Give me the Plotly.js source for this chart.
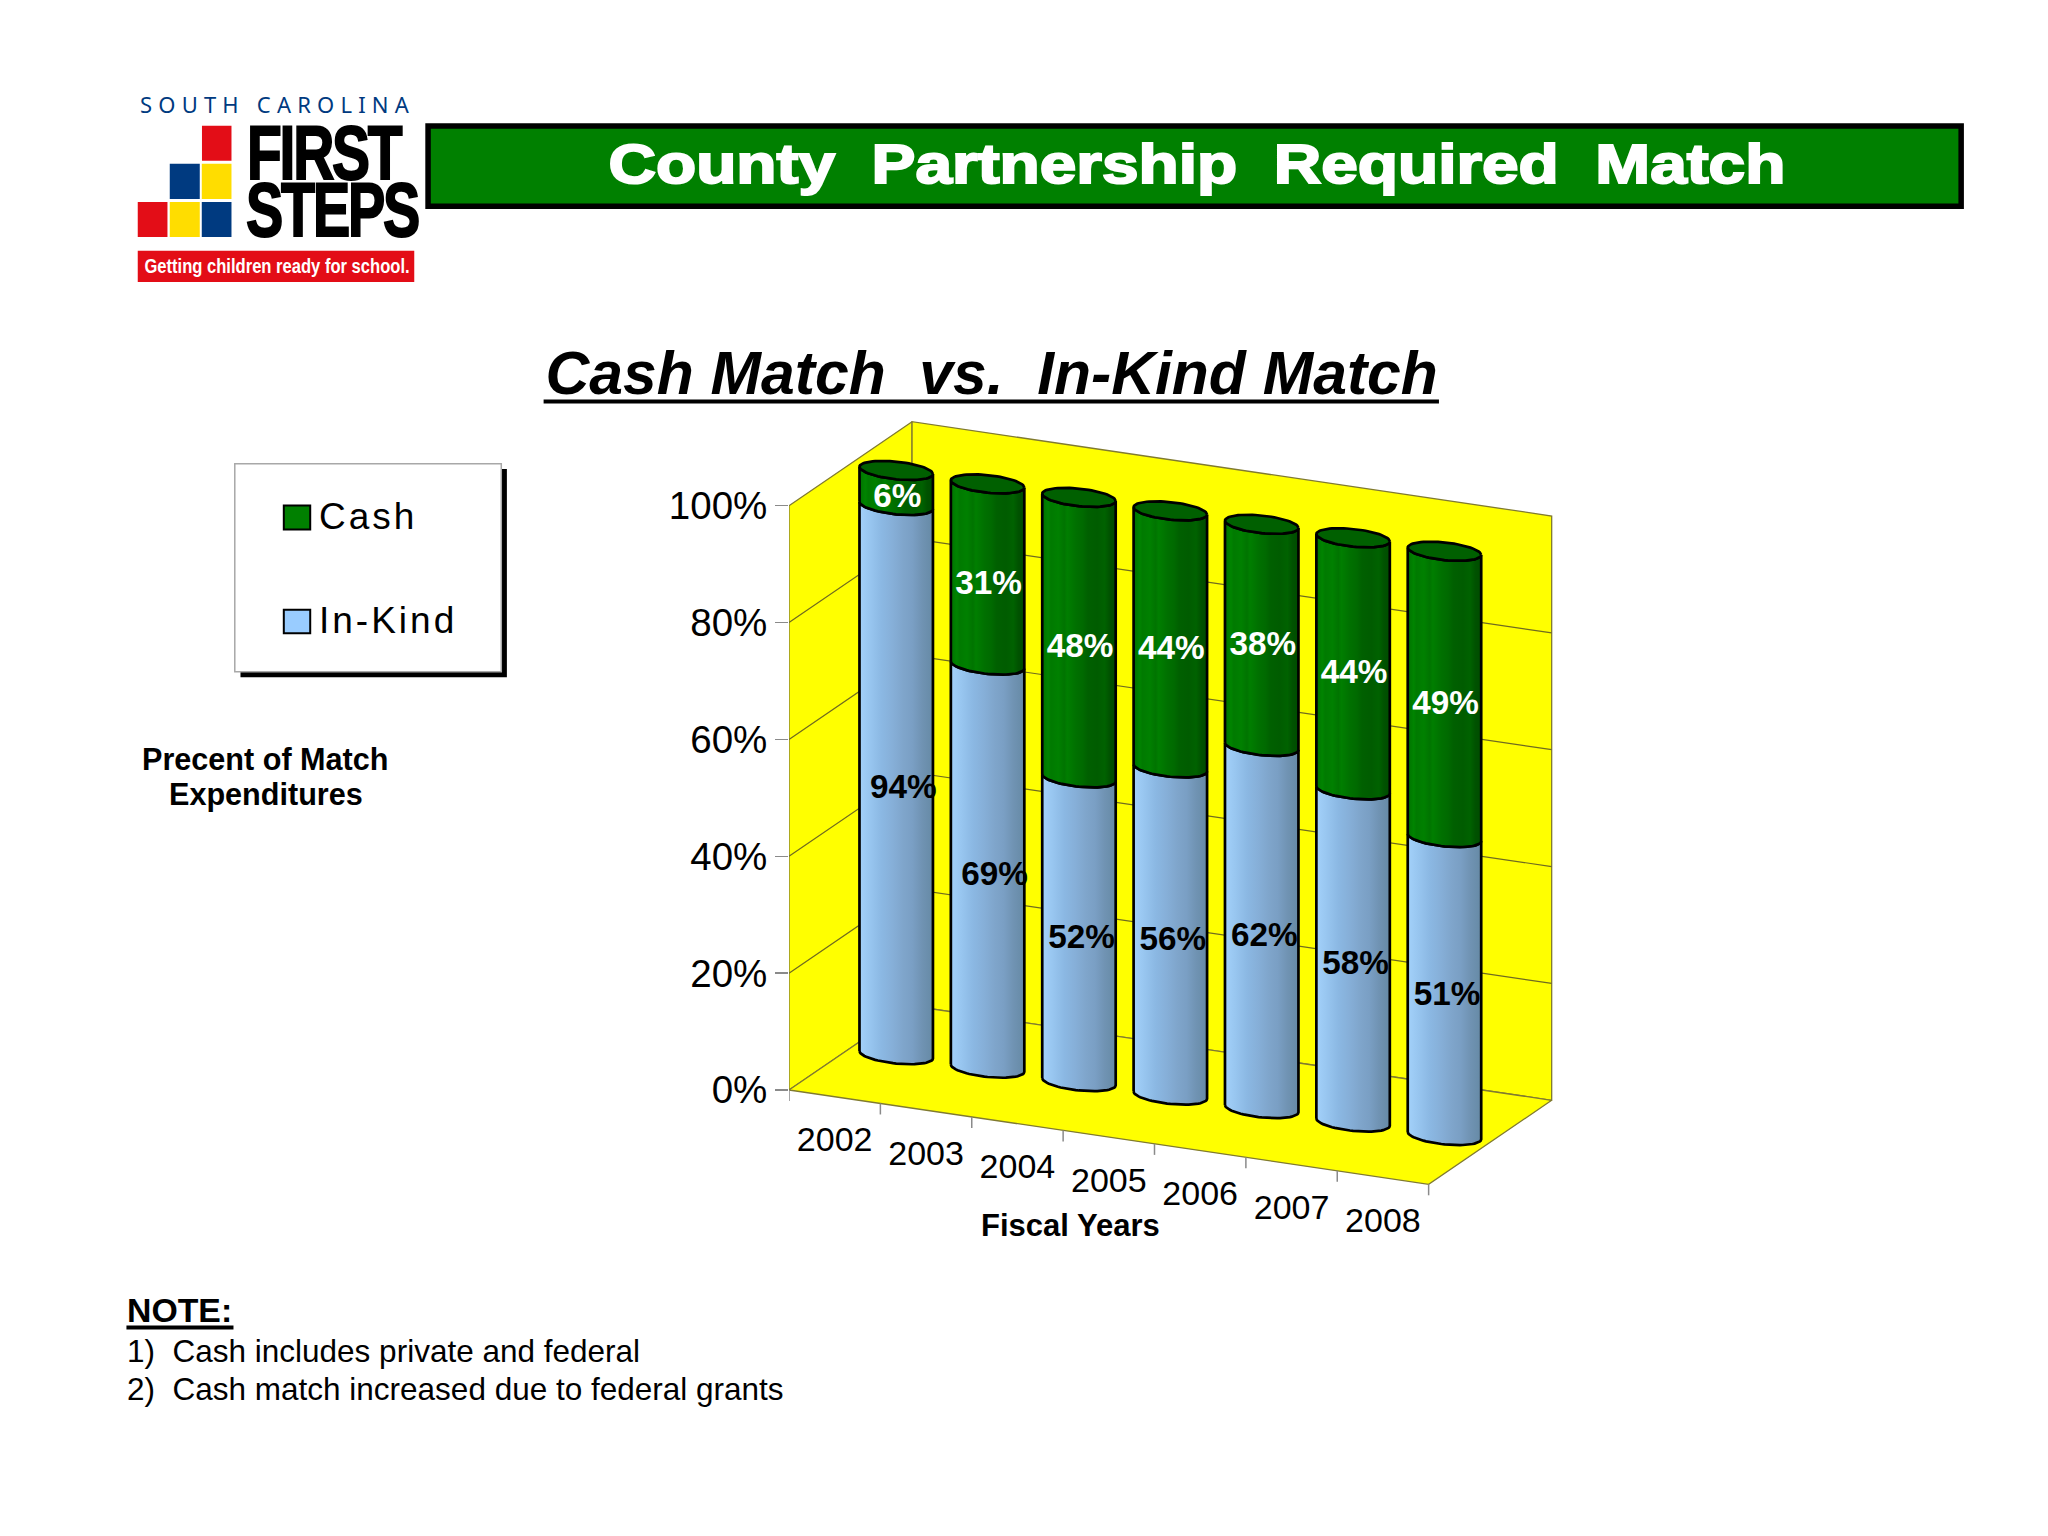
<!DOCTYPE html>
<html><head><meta charset="utf-8">
<script src="https://cdn.plot.ly/plotly-3.0.1.min.js"></script>
<style>
html,body{margin:0;padding:0;background:#fff}
#chart{width:2048px;height:1536px}
.annotation[data-index="0"] text{letter-spacing:6.2px}
.annotation[data-index="1"] text{letter-spacing:-3px;stroke:#000;stroke-width:2px;transform-box:fill-box;transform-origin:0 50%;transform:scaleX(.75)}
.annotation[data-index="2"] text{letter-spacing:-3px;stroke:#000;stroke-width:2px;transform-box:fill-box;transform-origin:0 50%;transform:scaleX(.735)}
.annotation[data-index="3"] text{letter-spacing:3px}
.annotation[data-index="4"] text{letter-spacing:3px}
.annotation[data-index="5"] text{transform-box:fill-box;transform-origin:50% 50%;transform:scaleX(.79)}
.annotation[data-index="6"] text{stroke:#fff;stroke-width:2px;transform-box:fill-box;transform-origin:50% 50%;transform:scaleX(1.175)}
</style></head><body><div id="chart"></div>
<script>
const years = ['2002','2003','2004','2005','2006','2007','2008'];
const cash = [6,31,48,44,38,44,49];
const inKind = [94,69,52,56,62,58,51];
const yTicks = [0,20,40,60,80,100];

const W=2048,H=1536;
// plot area in page pixels
const L=789.3,R=1560,T=400,B=1250;
const PXX=91.34, PXV=5.843;
const xRange=[0,(R-L)/PXX];
const yRange=[(1090-B)/PXV,(1090-T)/PXV];
// oblique projection of (category position, percent, depth) onto the axes
const projX=(X,d)=>X+(123/PXX)*d;
const projY=(X,V,d)=>V-(13.47/PXV)*X+(84/PXV)*d;

// the chart is a 100% stack: each year's two shares are scaled to their sum
const totals=years.map((_,i)=>inKind[i]+cash[i]);
const inKindShare=inKind.map((v,i)=>v/totals[i]*100);
const cashShare=cash.map((v,i)=>v/totals[i]*100);

const traces=[];
function line(name,pts,color,width){
  traces.push({type:'scatter',mode:'lines',name,showlegend:false,hoverinfo:'skip',
    x:pts.map(p=>projX(p[0],p[2])),y:pts.map(p=>projY(p[0],p[1],p[2])),
    line:{color,width}});
}
const n=years.length;
// walls
function wall(name,pts){
  traces.push({type:'scatter',mode:'lines',name,showlegend:false,hoverinfo:'skip',fill:'toself',fillcolor:'#ffff00',
    x:pts.map(p=>projX(p[0],p[2])),y:pts.map(p=>projY(p[0],p[1],p[2])),line:{color:'#807a30',width:1.3}});
}
wall('Side wall',[[0,0,0],[0,100,0],[0,100,1],[0,0,1],[0,0,0]]);
wall('Back wall',[[0,0,1],[0,100,1],[n,100,1],[n,0,1],[0,0,1]]);
wall('Floor',[[0,0,0],[0,0,1],[n,0,1],[n,0,0],[0,0,0]]);
yTicks.filter(v=>v>0&&v<100).forEach(v=>{
  line('Grid '+v,[[0,v,0],[0,v,1],[n,v,1]],'#6f6a20',1.2);
});
// category ticks
for(let i=0;i<=n;i++){
  const v0=-11/PXV;
  traces.push({type:'scatter',mode:'lines',name:'Tick '+i,showlegend:false,hoverinfo:'skip',
    x:[projX(i,0),projX(i,0)],y:[projY(i,0,0),projY(i,0,0)+v0],line:{color:'#8a8a8a',width:1.5}});
}
// cylinders
const rad=0.402, tilt=3.67/PXV, bv=8.8/PXV, STEPS=36;
const blueScale=[[0,'#a3d1fa'],[.14,'#98c6f0'],[.3,'#8bb8e3'],[.45,'#86afd8'],[.6,'#7fa5cb'],[.72,'#7a9fc4'],[.85,'#7093b3'],[1,'#668aa5']];
const greenScale=[[0,'#007200'],[.08,'#008400'],[.12,'#007a00'],[.22,'#008000'],[.3,'#007400'],[.34,'#007e00'],[.46,'#007000'],[.55,'#006a00'],[.62,'#006000'],[.75,'#005c00'],[.85,'#006200'],[.92,'#005200'],[1,'#004c00']];
function edge(i,V,t){
  const X=i+.5;
  return [projX(X+rad*Math.cos(t),.5), projY(X,V,.5)-tilt*Math.cos(t)-bv*Math.sin(t)];
}
function side(name,i,v0,v1,scale){
  const xs=[],ys=[];
  for(let k=0;k<=STEPS;k++){const p=edge(i,v0,Math.PI*(1-k/STEPS));xs.push(p[0]);ys.push(p[1]);}
  for(let k=0;k<=STEPS;k++){const p=edge(i,v1,Math.PI*k/STEPS);xs.push(p[0]);ys.push(p[1]);}
  xs.push(xs[0]);ys.push(ys[0]);
  traces.push({type:'scatter',mode:'lines',name,showlegend:false,hoverinfo:'skip',x:xs,y:ys,fill:'toself',
    fillgradient:{type:'horizontal',colorscale:scale},line:{color:'#000',width:2.7}});
}
function cap(name,i,V,color){
  const xs=[],ys=[];
  for(let k=0;k<=2*STEPS;k++){const p=edge(i,V,Math.PI*k/STEPS);xs.push(p[0]);ys.push(p[1]);}
  traces.push({type:'scatter',mode:'lines',name,showlegend:false,hoverinfo:'skip',x:xs,y:ys,fill:'toself',fillcolor:color,line:{color:'#000',width:2.7}});
}
years.forEach((yr,i)=>{
  side('In-Kind '+yr,i,0,inKindShare[i],blueScale);
  side('Cash '+yr,i,inKindShare[i],100,greenScale);
  cap('Cash top '+yr,i,100,'#006000');
});
// value labels
const fmt=v=>v+'%';
traces.push({type:'scatter',mode:'text',name:'In-Kind',showlegend:false,hoverinfo:'skip',cliponaxis:false,
  x:years.map((_,i)=>projX(i+.5+(i<2?7:2.5)/PXX,.5)),
  y:inKindShare.map((v,i)=>projY(i+.5,v/2,.5)-10/PXV),
  text:inKind.map(fmt),textposition:'middle center',
  textfont:{family:'Liberation Sans',size:33.3,color:'#000',weight:700}});
traces.push({type:'scatter',mode:'text',name:'Cash',showlegend:false,hoverinfo:'skip',cliponaxis:false,
  x:years.map((_,i)=>projX(i+.5+1/PXX,.5)),
  y:cashShare.map((v,i)=>projY(i+.5,inKindShare[i]+v/2,.5)-11/PXV),
  text:cash.map(fmt),textposition:'middle center',
  textfont:{family:'Liberation Sans',size:33.3,color:'#fff',weight:700}});
// year labels
traces.push({type:'scatter',mode:'text',name:'Years',showlegend:false,hoverinfo:'skip',cliponaxis:false,
  x:years.map((_,i)=>projX(i+.5,0)),
  y:years.map((_,i)=>projY(i+.5,0,0)-46/PXV),
  text:years,textposition:'middle center',
  textfont:{family:'Liberation Sans',size:34,color:'#000'}});

// page furniture
const rect=(x0,y0,x1,y1,fill,lineColor,lw)=>({type:'rect',xref:'paper',yref:'paper',layer:'below',
  x0:(x0-L)/(R-L),x1:(x1-L)/(R-L),y0:(B-y0)/(B-T),y1:(B-y1)/(B-T),fillcolor:fill,
  line:{color:lineColor||fill,width:lw===undefined?0:lw}});
const ax=x=>(x-L)/(R-L), ay=y=>(B-y)/(B-T);
const note=(text,x,y,size,opt={})=>({text,xref:'paper',yref:'paper',x:ax(x),y:ay(y),showarrow:false,
  xanchor:opt.anchor||'left',yanchor:'middle',align:opt.anchor==='center'?'center':'left',
  font:{family:opt.family||'Liberation Sans',size,color:opt.color||'#000',weight:opt.weight||400}});

const RED='#e30d17',BLUE='#003a80',YEL='#ffdd00';
const shapes=[
  // logo
  rect(202.5,125.7,232,160.7,RED),rect(170.3,163.7,200.3,199,BLUE),rect(202.3,163.7,232,199,YEL),
  rect(138.3,202,168,237,RED),rect(170.3,202,200.3,237,YEL),rect(202.3,202,232,237,BLUE),
  rect(138.3,250.7,414.7,282,RED),
  // banner
  rect(428.5,126,1961,206.3,'#008000','#000',5.5),
  // title underline
  rect(544,399.5,1439,403.5,'#000'),
  // legend
  rect(241,469,507.3,677.3,'#000'),
  rect(235.3,463.7,501.7,671.7,'#fff','#a8a8a8',1.5),
  rect(284.3,505.5,310.7,529.5,'#008000','#000',2),
  rect(284.3,609.8,310.7,633.2,'#99ccff','#000',2),
  // note underline
  rect(127,1325.5,234,1329.5,'#000')
];
const annotations=[
  note('SOUTH CAROLINA',139,104,22,{family:'Noto Sans',color:BLUE}),
  note('FIRST',246,152,76,{weight:700}),
  note('STEPS',245,210,76,{weight:700}),
  note('Cash',317,516,37),
  note('In-Kind',317,620,37),
  note('Getting children ready for school.',277.5,266,21,{anchor:'center',color:'#fff',weight:700}),
  note('County\u00a0\u00a0Partnership\u00a0\u00a0Required\u00a0\u00a0Match',1197,163,56,{anchor:'center',color:'#fff',weight:700}),
  note('Precent of Match',266.5,758.5,30.6,{anchor:'center',weight:700}),
  note('Expenditures',266.5,794,30.6,{anchor:'center',weight:700}),
  note('Fiscal Years',1070.3,1225,31,{anchor:'center',weight:700}),
  note('NOTE:',126,1310,33.8,{weight:700}),
  note('1)\u00a0\u00a0Cash includes private and federal',126,1351,31.5),
  note('2)\u00a0\u00a0Cash match increased due to federal grants',126,1389,31.5)
];

const layout={
  width:W,height:H,autosize:false,showlegend:false,hovermode:false,dragmode:false,
  paper_bgcolor:'#fff',plot_bgcolor:'rgba(0,0,0,0)',
  margin:{l:L,r:W-R,t:T,b:H-B,pad:0},
  title:{text:'Cash Match\u00a0\u00a0vs.\u00a0\u00a0In-Kind Match',x:991.7/W,xanchor:'center',y:1-372.4/H,yanchor:'middle',
    font:{family:'Liberation Sans',size:60.6,color:'#000',weight:700,style:'italic'}},
  xaxis:{range:xRange,visible:false,fixedrange:true},
  yaxis:{range:yRange,tickvals:yTicks,ticktext:yTicks.map(v=>v+'%'),ticks:'outside',ticklen:13,tickwidth:1.5,tickcolor:'#8a8a8a',
    showgrid:false,zeroline:false,showline:false,automargin:false,fixedrange:true,
    tickfont:{family:'Liberation Sans',size:38.5,color:'#000'}},
  shapes,annotations
};
Plotly.newPlot('chart',traces,layout,{displayModeBar:false,staticPlot:true});
</script></body></html>
